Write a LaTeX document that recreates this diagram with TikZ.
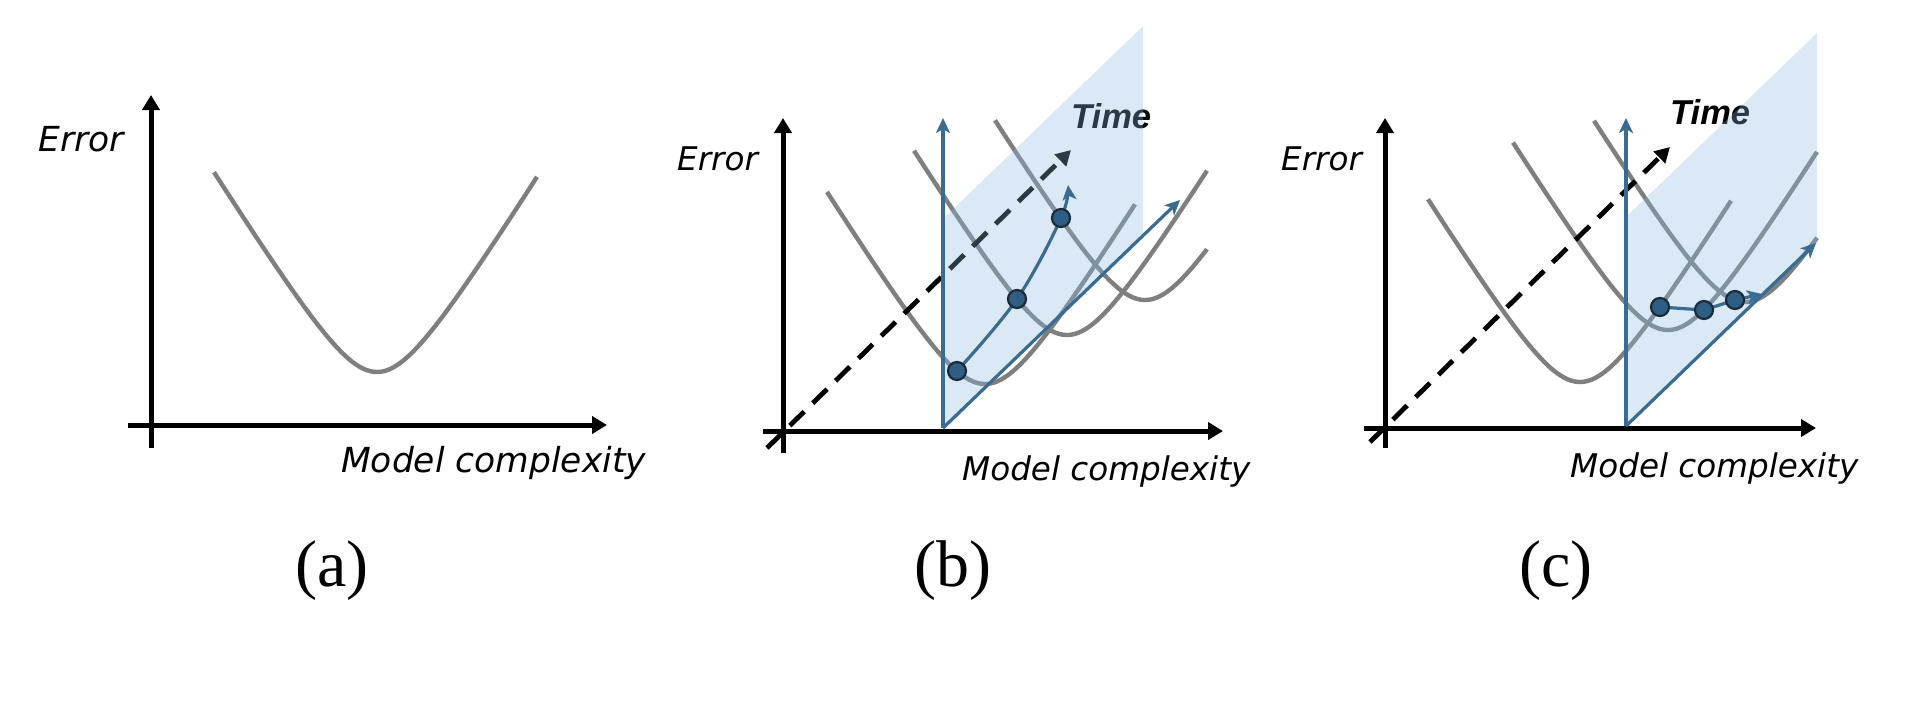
\documentclass[tikz,border=0pt]{standalone}
\usepackage{fontspec}
\setmainfont{Liberation Serif}
\newfontfamily\labfont{DejaVu Sans}
\newfontfamily\timefont{Liberation Sans}
\usetikzlibrary{arrows.meta}
\definecolor{curvegray}{HTML}{7F7F7F}
\definecolor{bluel}{HTML}{3A6B91}
\definecolor{dotfill}{HTML}{2E5E84}
\definecolor{dotedge}{HTML}{1B2B3A}
\definecolor{shadec}{HTML}{8BBBE8}
\newcommand{\Ucurve}[4]{\draw[curve] plot[domain=#3:#4,samples=90] ({#1+\x},{#2-16.1*(sqrt(20.25+(\x/10)^2)-4.5)});}
\begin{document}
\begin{tikzpicture}[x=1pt,y=-1pt,
  axis/.style={line width=5pt,-{Triangle[length=15pt,width=17pt]}},
  curve/.style={curvegray,line width=4.4pt},
  timeaxis/.style={line width=4.8pt,dash pattern=on 20pt off 12pt,-{Triangle[length=15pt,width=16pt]}},
  bluearrow/.style={bluel,line width=3.2pt,-{Stealth[length=15pt,width=14pt,inset=4pt]}},
  dot/.style={circle,fill=dotfill,draw=dotedge,line width=2.2pt,minimum size=18pt,inner sep=0pt},
  shadebox/.style={fill=shadec,fill opacity=0.31,draw=none},
  lbl/.style={inner sep=0pt,anchor=base west,font=\labfont\itshape\fontsize{32.6}{38}\selectfont},
  lbla/.style={inner sep=0pt,anchor=base west,font=\labfont\itshape\fontsize{34.5}{40}\selectfont},
  timelbl/.style={inner sep=0pt,anchor=base west,font=\timefont\bfseries\itshape\fontsize{34.5}{40}\selectfont},
  capl/.style={inner sep=0pt,anchor=base,font=\fontsize{66}{76}\selectfont}]
\fill[white] (0,0) rectangle (1912,716);
\useasboundingbox (0,0) rectangle (1912,716);

% ---------- panel (a)
\Ucurve{377}{372}{-163}{160}
\coordinate (ax0) at (128,425); \coordinate (ax1) at (607,425);
\coordinate (ay0) at (151,448); \coordinate (ay1) at (151,95);
\draw[axis] (ax0) -- (ax1);
\draw[axis] (ay0) -- (ay1);
\node[lbla] (aerr) at (38,151) {Error};
\node[lbla] (amc) at (341,472) {Model complexity};
\node[capl] (acap) at (332,586.5) {(a)};

% ---------- panel (b)
\Ucurve{985}{384}{-158}{150}
\Ucurve{1067}{335}{-153}{140}
\Ucurve{1145}{300}{-150}{62}
\coordinate (bt0) at (767,448); \coordinate (bt1) at (1071,150);
\draw[timeaxis] (bt0) -- (bt1);
\coordinate (bx0) at (763,431); \coordinate (bx1) at (1223,431);
\coordinate (by0) at (783,453); \coordinate (by1) at (783,118);
\draw[axis] (bx0) -- (bx1);
\draw[axis] (by0) -- (by1);
\node[timelbl] (btime) at (1071,128) {Time};
\node[lbl] (berr) at (677,170) {Error};
\node[lbl] (bmc) at (962,480) {Model complexity};
\fill[shadebox] (945,428) -- (945,217) -- (1143,26) -- (1143,237) -- cycle;
\coordinate (bo) at (943,428);
\coordinate (bv) at (943,118);
\coordinate (bd) at (1180,200);
\draw[bluearrow] (bo) -- (bv);
\draw[bluearrow] (bo) -- (bd);
\coordinate (bp1) at (957,371);
\coordinate (bp2) at (1017,299);
\coordinate (bp3) at (1061,218);
\coordinate (bpt) at (1068,185);
\draw[bluearrow] plot[smooth,tension=0.6] coordinates {(bp1) (bp2) (bp3) (bpt)};
\node[dot] (bd1) at (bp1) {};
\node[dot] (bd2) at (bp2) {};
\node[dot] (bd3) at (bp3) {};
\node[capl] (bcap) at (953,586.5) {(b)};

% ---------- panel (c)
\Ucurve{1580}{382}{-152}{151}
\Ucurve{1668}{330}{-155}{149}
\Ucurve{1745}{302}{-151}{72}
\coordinate (ct0) at (1370,442); \coordinate (ct1) at (1670,147);
\draw[timeaxis] (ct0) -- (ct1);
\coordinate (cx0) at (1364,428); \coordinate (cx1) at (1816,428);
\coordinate (cy0) at (1385,448); \coordinate (cy1) at (1385,118);
\draw[axis] (cx0) -- (cx1);
\draw[axis] (cy0) -- (cy1);
\node[timelbl] (ctime) at (1670,124) {Time};
\node[lbl] (cerr) at (1281,170) {Error};
\node[lbl] (cmc) at (1570,477) {Model complexity};
\fill[shadebox] (1628,426) -- (1628,215) -- (1817,33) -- (1817,244) -- cycle;
\coordinate (co) at (1626,426);
\coordinate (cv) at (1626,118);
\coordinate (cd) at (1816,243);
\draw[bluearrow] (co) -- (cv);
\draw[bluearrow] (co) -- (cd);
\coordinate (cp1) at (1660,307);
\coordinate (cp2) at (1704,310);
\coordinate (cp3) at (1735,300);
\coordinate (cpt) at (1762,294);
\draw[bluearrow] (cp1) -- (cp2) -- (cp3) -- (cpt);
\node[dot] (cd1) at (cp1) {};
\node[dot] (cd2) at (cp2) {};
\node[dot] (cd3) at (cp3) {};
\node[capl] (ccap) at (1556,586.5) {(c)};
\end{tikzpicture}
\end{document}
